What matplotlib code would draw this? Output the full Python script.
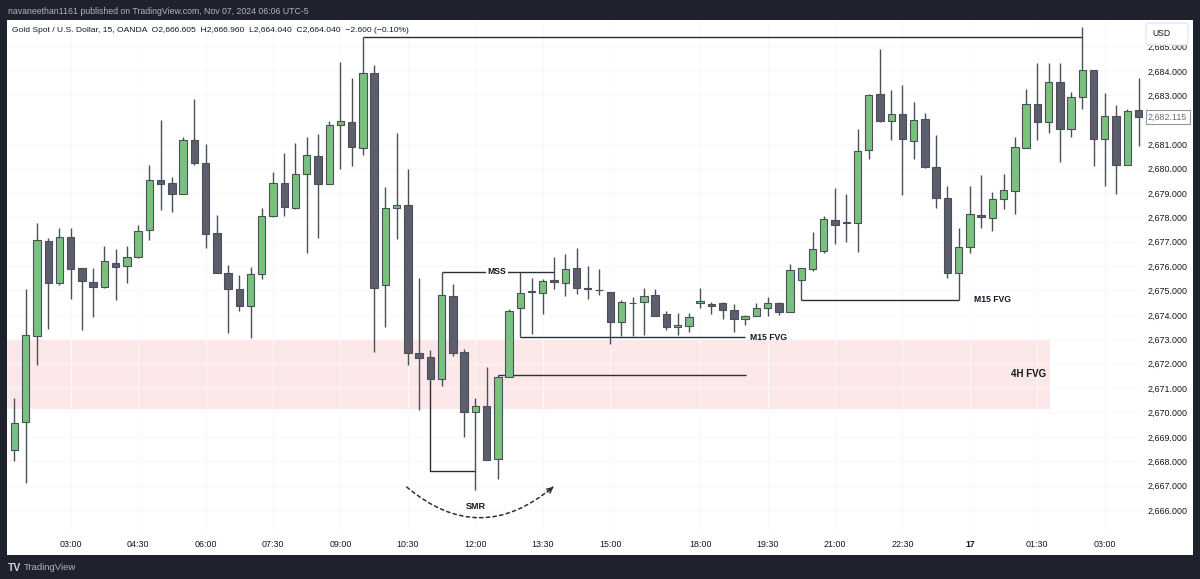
import matplotlib.pyplot as plt
from matplotlib.patches import Rectangle, FancyBboxPatch

plt.rcParams['font.family'] = ['Liberation Sans', 'DejaVu Sans']

# Gold Spot / U.S. Dollar, 15 min candles (OANDA)
opens = [
    2668.46, 2669.61, 2673.13, 2677.03, 2675.31, 2677.19, 2675.92, 2675.35, 2675.14, 2676.13,
    2676.00, 2676.37, 2677.48, 2679.53, 2679.41, 2678.96, 2681.17, 2680.23, 2677.36, 2675.72,
    2675.06, 2674.36, 2675.68, 2678.05, 2679.41, 2678.38, 2679.78, 2680.51, 2679.37, 2681.79,
    2681.91, 2680.84, 2683.92, 2675.23, 2678.38, 2678.51, 2672.44, 2672.27, 2671.37, 2674.77,
    2672.48, 2670.02, 2670.26, 2668.09, 2671.45, 2674.28, 2674.96, 2674.90, 2675.43, 2675.31,
    2675.92, 2675.10, 2675.02, 2674.94, 2673.71, 2674.49, 2674.53, 2674.82, 2674.04, 2673.50,
    2673.54, 2674.49, 2674.45, 2674.49, 2674.20, 2673.83, 2673.95, 2674.28, 2674.49, 2674.12,
    2675.43, 2675.88, 2676.62, 2677.89, 2677.78, 2677.77, 2680.76, 2683.06, 2681.95, 2682.24,
    2681.13, 2682.03, 2680.06, 2678.79, 2675.72, 2676.78, 2678.10, 2677.97, 2678.75, 2679.08,
    2680.84, 2682.65, 2681.91, 2683.55, 2681.62, 2682.93, 2684.04, 2681.21, 2682.16, 2680.15,
    2682.40,
]
highs = [
    2670.59, 2675.06, 2677.77, 2677.15, 2677.56, 2677.56, 2675.92, 2675.92, 2676.82, 2676.70,
    2676.82, 2677.69, 2680.15, 2681.99, 2679.65, 2681.29, 2682.85, 2681.01, 2678.10, 2676.05,
    2675.64, 2675.96, 2678.38, 2679.86, 2680.64, 2681.05, 2681.29, 2681.42, 2681.95, 2684.37,
    2683.71, 2685.41, 2684.25, 2679.24, 2681.46, 2679.98, 2675.51, 2672.56, 2675.76, 2675.27,
    2672.60, 2670.59, 2671.86, 2671.53, 2674.24, 2675.76, 2675.51, 2675.47, 2676.37, 2676.50,
    2676.74, 2676.00, 2675.88, 2674.94, 2674.61, 2674.73, 2675.10, 2675.06, 2674.16, 2674.08,
    2674.08, 2675.10, 2674.53, 2674.53, 2674.45, 2674.00, 2674.49, 2674.73, 2674.53, 2676.09,
    2675.92, 2677.40, 2678.05, 2679.20, 2678.96, 2681.62, 2683.06, 2684.90, 2683.22, 2683.43,
    2682.73, 2682.28, 2681.38, 2679.28, 2677.56, 2679.28, 2679.74, 2679.04, 2679.78, 2681.29,
    2683.26, 2684.33, 2684.33, 2684.33, 2683.14, 2685.80, 2684.04, 2683.10, 2682.61, 2682.44,
    2683.71,
]
lows = [
    2668.01, 2667.11, 2671.95, 2673.42, 2675.23, 2674.65, 2673.38, 2673.91, 2675.10, 2674.61,
    2675.31, 2676.33, 2677.07, 2678.30, 2678.22, 2678.96, 2680.15, 2676.74, 2675.72, 2673.26,
    2674.16, 2673.05, 2675.47, 2678.01, 2678.05, 2678.34, 2676.54, 2677.15, 2679.37, 2679.98,
    2680.10, 2680.56, 2672.48, 2673.50, 2677.11, 2671.95, 2670.10, 2671.29, 2671.08, 2672.31,
    2668.99, 2666.82, 2668.05, 2667.27, 2671.45, 2673.09, 2673.22, 2674.04, 2675.06, 2674.77,
    2674.86, 2674.65, 2674.82, 2672.81, 2673.13, 2673.13, 2673.18, 2673.95, 2673.38, 2673.18,
    2673.30, 2674.28, 2674.04, 2673.83, 2673.30, 2673.59, 2673.95, 2673.95, 2674.00, 2674.12,
    2674.61, 2675.80, 2676.54, 2676.91, 2676.99, 2676.58, 2680.39, 2681.91, 2681.17, 2678.92,
    2680.39, 2680.02, 2678.38, 2675.51, 2674.61, 2676.54, 2677.56, 2677.44, 2678.34, 2678.14,
    2680.84, 2681.17, 2681.46, 2680.27, 2681.29, 2682.44, 2680.10, 2679.28, 2678.96, 2680.15,
    2680.93,
]
closes = [
    2669.57, 2673.18, 2677.07, 2675.31, 2677.19, 2675.88, 2675.39, 2675.14, 2676.21, 2675.96,
    2676.37, 2677.44, 2679.53, 2679.37, 2678.96, 2681.17, 2680.23, 2677.32, 2675.72, 2675.06,
    2674.36, 2675.68, 2678.05, 2679.41, 2678.42, 2679.78, 2680.56, 2679.37, 2681.79, 2681.95,
    2680.88, 2683.92, 2675.10, 2678.38, 2678.51, 2672.44, 2672.23, 2671.37, 2674.82, 2672.44,
    2670.02, 2670.26, 2668.05, 2671.45, 2674.16, 2674.90, 2674.92, 2675.39, 2675.35, 2675.88,
    2675.10, 2675.08, 2675.00, 2673.71, 2674.53, 2674.47, 2674.77, 2673.95, 2673.50, 2673.59,
    2673.91, 2674.57, 2674.36, 2674.20, 2673.83, 2673.95, 2674.28, 2674.49, 2674.12, 2675.84,
    2675.92, 2676.70, 2677.93, 2677.69, 2677.76, 2680.72, 2683.02, 2681.95, 2682.24, 2681.21,
    2681.99, 2680.06, 2678.79, 2675.72, 2676.78, 2678.14, 2678.01, 2678.75, 2679.12, 2680.88,
    2682.65, 2681.91, 2683.55, 2681.62, 2682.93, 2684.04, 2681.21, 2682.16, 2680.15, 2682.36,
    2682.115,
]

# time axis (candle index -> label), 17:00-18:00 break is skipped
time_ticks = [5, 11, 17, 23, 29, 35, 41, 47, 53, 61, 67, 73, 79, 85, 91, 97]
time_labels = ["03:00", "04:30", "06:00", "07:30", "09:00", "10:30", "12:00", "13:30",
               "15:00", "18:00", "19:30", "21:00", "22:30", "17", "01:30", "03:00"]
price_ticks = [p for p in range(2666, 2686) if p != 2682]

fvg_4h = (2670.14, 2673.01)
last_price = 2682.115

DARK = '#1e222d'
GREEN = '#78c27d'
GREY = '#5c5f6b'
EDGE = '#4b4f5a'
LINE = '#2a2e39'
TXT = '#131722'

fig = plt.figure(figsize=(12, 5.79), dpi=100)
fig.patch.set_facecolor(DARK)

# white chart panel
fig.add_artist(Rectangle((7 / 1200, 1 - 555 / 579), 1186 / 1200, 535 / 579,
                         transform=fig.transFigure, facecolor='white',
                         edgecolor='none', zorder=-1))

ax = fig.add_axes([7 / 1200, 49 / 579, 1136 / 1200, 510 / 579])
ax.set_facecolor('none')
ax.set_xlim(-0.667, 100.4)
ax.set_ylim(2665.18, 2686.09)

x = list(range(len(opens)))
up = [c > o for o, c in zip(opens, closes)]
bottoms = [min(o, c) for o, c in zip(opens, closes)]
heights = [max(abs(c - o), 0.03) for o, c in zip(opens, closes)]

# 4H FVG zone
ax.fill_between([-0.667, 92.1], fvg_4h[0], fvg_4h[1], color='#fde8e9', lw=0, zorder=0)
ax.text(90.2, sum(fvg_4h) / 2, "4H FVG", ha='center', va='center',
        fontsize=7, fontweight='bold', color=TXT)

# candles
ax.vlines(x, lows, highs, color=EDGE, lw=1, zorder=2)
ax.bar(x, heights, bottom=bottoms, width=0.66,
       color=[GREEN if u else GREY for u in up],
       edgecolor=EDGE, linewidth=0.8, zorder=3)

# drawings
ax.hlines(highs[31], 31, 95, color=LINE, lw=1, zorder=1)

ax.hlines(highs[38], 38, 48, color=LINE, lw=1, zorder=1)
ax.text(42.9, highs[38], "MSS", ha='center', va='center', fontsize=6.2,
        fontweight='bold', color=TXT,
        bbox=dict(facecolor='white', edgecolor='none', pad=1.2), zorder=4)

ax.hlines(lows[45], 45, 65, color=LINE, lw=1, zorder=1)
ax.text(65.4, lows[45], "M15 FVG", ha='left', va='center', fontsize=6.2,
        fontweight='bold', color=TXT)
ax.hlines(highs[43], 43, 65.1, color=LINE, lw=1, zorder=1)

ax.hlines(lows[70], 70, 84, color=LINE, lw=1, zorder=1)
ax.text(85.4, lows[70], "M15 FVG", ha='left', va='center', fontsize=6.2,
        fontweight='bold', color=TXT)

# SMR bracket and curved arrow
smr_level = 2667.60
ax.plot([37, 37, 41], [lows[37], smr_level, smr_level], color=LINE, lw=1, zorder=1)
ax.text(41.05, 2666.16, "SMR", ha='center', va='center', fontsize=6.5,
        fontweight='bold', color=TXT)
ax.annotate("", xy=(47.9, 2666.94), xytext=(34.9, 2666.94),
            arrowprops=dict(arrowstyle='-', linestyle=(0, (2.2, 2.2)), lw=1.1,
                            color=LINE, connectionstyle='arc3,rad=0.42',
                            shrinkA=0, shrinkB=0))
ax.annotate("", xy=(47.95, 2666.95), xytext=(47.4, 2666.74),
            arrowprops=dict(arrowstyle='->', lw=1.1, color=LINE,
                            mutation_scale=9, shrinkA=0, shrinkB=0))

# axes styling
for s in ax.spines.values():
    s.set_visible(False)
ax.yaxis.tick_right()
ax.set_yticks(price_ticks)
ax.set_yticklabels([f"{p:,.3f}" for p in price_ticks])
ax.set_xticks(time_ticks)
ax.set_xticklabels(time_labels)
ax.tick_params(axis='y', length=0, pad=3.6, labelsize=6.4, labelcolor=TXT)
ax.tick_params(axis='x', length=0, pad=7, labelsize=6.4, labelcolor=TXT)
ax.get_xticklabels()[time_labels.index("17")].set_fontweight('bold')
ax.grid(True, color='#f9f9fb', lw=0.8)
ax.set_axisbelow(True)

# last price label
ax.annotate(f"{last_price:,.3f}", xy=(1, last_price),
            xycoords=('axes fraction', 'data'), xytext=(3.6, 0),
            textcoords='offset points', ha='left', va='center',
            fontsize=6.4, color='#6a6d78',
            bbox=dict(boxstyle='square,pad=0.25', facecolor='white',
                      edgecolor='#9598a1', lw=0.8))

# header / legend / footer
fig.text(8 / 1200, 1 - 11 / 579,
         "navaneethan1161 published on TradingView.com, Nov 07, 2024 06:06 UTC-5",
         color='#b2b5be', fontsize=6.3, va='center', ha='left')
fig.text(12 / 1200, 1 - 31 / 579,
         "Gold Spot / U.S. Dollar, 15, OANDA  O2,666.605  H2,666.960  "
         "L2,664.040  C2,664.040  \u22122.600 (\u22120.10%)",
         color=TXT, fontsize=6.1, va='center', ha='left')

fig.add_artist(FancyBboxPatch((1146 / 1200, 1 - 45 / 579), 42 / 1200, 22 / 579,
                              boxstyle='round,pad=0,rounding_size=0.004',
                              transform=fig.transFigure, facecolor='white',
                              edgecolor='#e0e3eb', lw=0.8, zorder=5))
fig.text(1152 / 1200, 1 - 33 / 579, "USD", color=TXT, fontsize=6.2,
         va='center', ha='left', zorder=6)

fig.text(8 / 1200, 1 - 568 / 579, "TV", color='#d1d4dc', fontsize=7.5,
         fontweight='bold', va='center', ha='left')
fig.text(24 / 1200, 1 - 568 / 579, "TradingView", color='#b2b5be', fontsize=6.8,
         va='center', ha='left')

fig.savefig("out.png", dpi=100, facecolor=fig.get_facecolor())
